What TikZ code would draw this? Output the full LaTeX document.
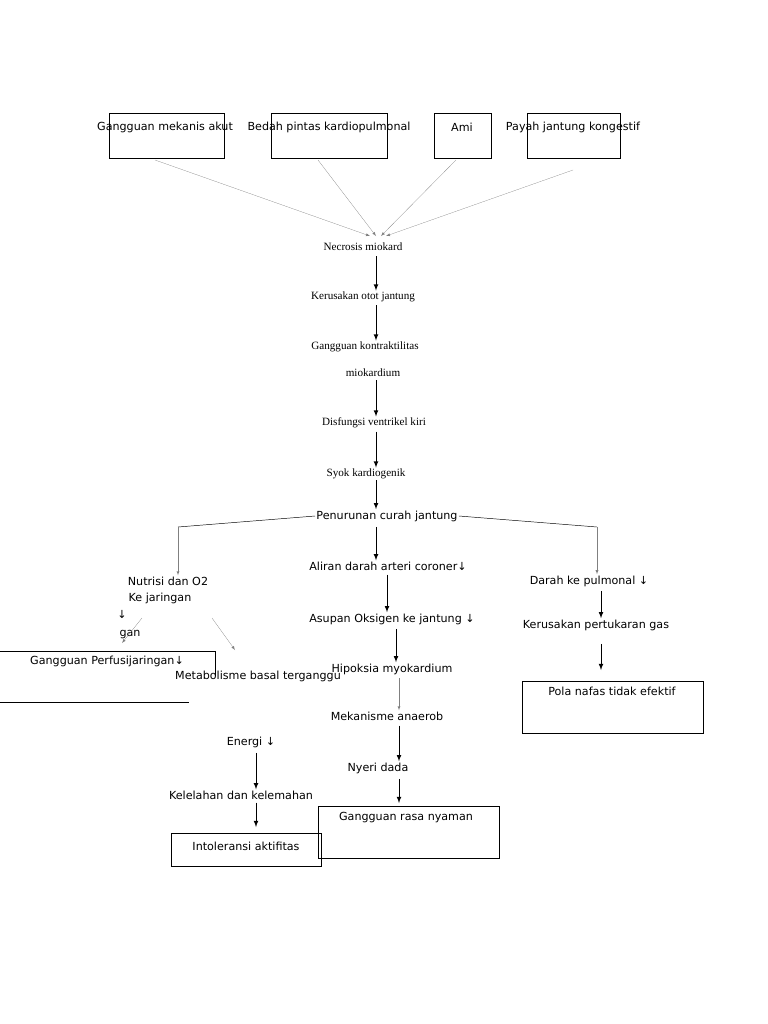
\documentclass[tikz,border=0pt]{standalone}
\usepackage{fontspec}
\setmainfont{Liberation Serif}
\newfontfamily\sansf{DejaVu Sans}
\usetikzlibrary{arrows}
\begin{document}
\begin{tikzpicture}[x=0.03cm,y=-0.03cm]
	\tikzstyle{arrow}=[draw, -latex, thick]
	\tikzstyle{thin arrow}=[draw, -latex, gray, very thin]
	\tikzstyle{sans}=[font=\sansf\fontsize{9.5}{11}\selectfont, inner sep=1pt]
	\tikzstyle{serif}=[font=\fontsize{9.5}{11}\selectfont, inner sep=1pt]
	\tikzstyle{box}=[draw, thin]

	\useasboundingbox (0,0) rectangle (768,1024);

	% Causes
	\draw [box] (109,113) rectangle (224,158);
	\draw [box] (271,113) rectangle (387,158);
	\draw [box] (434,113) rectangle (491,158);
	\draw [box] (527,113) rectangle (620,158);
	\node [sans] at (165,127) (mek) {Gangguan mekanis akut};
	\node [sans] at (329,127) (bed) {Bedah pintas kardiopulmonal};
	\node [sans] at (462,127) (ami) {Ami};
	\node [sans] at (573,127) (pay) {Payah jantung kongestif};
	\coordinate (mekend) at (155,160);
	\coordinate (bedend) at (318,160);
	\coordinate (amiend) at (456,160);
	\coordinate (payend) at (573,170);

	% Central chain
	\coordinate (ax) at (376,0);
	\node [serif] at (363,247) (nec) {Necrosis miokard};
	\node [serif] at (363,297) (ker) {Kerusakan otot jantung};
	\node [serif] at (365,347) (kon) {Gangguan kontraktilitas};
	\node [serif] at (373,373) (kon2) {miokardium};
	\node [serif] at (374,423) (dis) {Disfungsi ventrikel kiri};
	\node [serif] at (366,474) (syo) {Syok kardiogenik};
	\node [sans] at (387,516) (pen) {Penurunan curah jantung};
	\node [sans] at (388,566) (ali) {Aliran darah arteri coroner↓};
	\node [sans] at (392,619) (asu) {Asupan Oksigen ke jantung ↓};
	\node [sans] at (392,669) (hip) {Hipoksia myokardium};
	\node [sans] at (387,716) (mka) {Mekanisme anaerob};
	\node [sans] at (378,768) (nye) {Nyeri dada};
	\draw [box] (318,806) rectangle (499,858);
	\node [sans] at (406,818) (nya) {Gangguan rasa nyaman};

	% Left branch
	\node [sans] at (168,581) (nut) {Nutrisi dan O2};
	\node [sans] at (160,598) (jar) {Ke jaringan};
	\node [sans] at (122,614) {↓};
	\node [sans] at (130,635) {gan};
	\draw [box] (0,651) -- (215,651) -- (215,676);
	\draw [box] (0,702) -- (189,702);
	\node [sans] at (107,661) (per) {Gangguan Perfusijaringan↓};
	\node [sans] at (258,676) (met) {Metabolisme basal terganggu};
	\node [sans] at (251,742) (ene) {Energi ↓};
	\node [sans] at (241,795) (kel) {Kelelahan dan kelemahan};
	\draw [box] (171,833) rectangle (321,866);
	\node [sans] at (246,846) (int) {Intoleransi aktifitas};

	% Right branch
	\node [sans] at (589,581) (dar) {Darah ke pulmonal ↓};
	\node [sans] at (596,625) (kpg) {Kerusakan pertukaran gas};
	\draw [box] (522,681) rectangle (703,733);
	\node [sans] at (612,691) (pol) {Pola nafas tidak efektif};

	% Path Arrows
	\path [thin arrow] (mekend) -- (370,236);
	\path [thin arrow] (bedend) -- (376,236);
	\path [thin arrow] (amiend) -- (381,236);
	\path [thin arrow] (payend) -- (386,236);
	\path [arrow] (nec.south -| ax) ++(0,4) -- (ker.north -| ax);
	\path [arrow] (ker.south -| ax) ++(0,2) -- (kon.north -| ax);
	\path [arrow] (kon2.south -| ax) ++(0,2) -- (dis.north -| ax);
	\path [arrow] (dis.south -| ax) ++(0,2) -- (syo.north -| ax);
	\path [arrow] (syo.south -| ax) -- (pen.north -| ax);
	\path [arrow] (pen.south -| ax) ++(0,4) -- (ali.north -| ax);
	\path [arrow] (ali.south -| 387,0) ++(0,3) -- (asu.north -| 387,0);
	\path [arrow] (asu.south -| 396,0) ++(0,3) -- (hip.north -| 396,0);
	\path [thin arrow] (hip.south -| 399,0) ++(0,2) -- (mka.north -| 399,0);
	\path [arrow] (mka.south -| 399,0) ++(0,4) -- (nye.north -| 399,0);
	\path [arrow] (nye.south -| 399,0) ++(0,4) -- (399,803);

	\draw [thin] (178,527) -- (pen.west);
	\draw [thin] (pen.east) -- (597,527);
	\path [thin arrow] (178,527) -- (nut.north -| 178,0);
	\path [thin arrow] (597,527) -- (dar.north -| 597,0);
	\path [thin arrow] (142,618) -- (122,643);
	\path [thin arrow] (212,618) -- (235,650);
	\path [arrow] (ene.south -| 256,0) ++(0,4) -- (kel.north -| 256,0);
	\path [arrow] (kel.south -| 256,0) ++(0,2) -- (256,827);

	\path [arrow] (dar.south -| 601,0) ++(0,3) -- (kpg.north -| 601,0);
	\path [arrow] (kpg.south -| 601,0) ++(0,12) -- (601,670);
\end{tikzpicture}
\end{document}
